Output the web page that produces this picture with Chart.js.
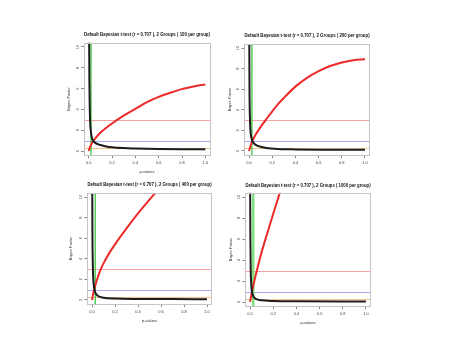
<!DOCTYPE html>
<html><head><meta charset="utf-8">
<script src="https://cdn.jsdelivr.net/npm/chart.js@4"></script>
<style>
html,body{margin:0;padding:0;background:#fff;}
body{width:474px;height:355px;position:relative;overflow:hidden;}
canvas{position:absolute;left:0;top:0;}
</style></head><body>
<canvas id="c0" width="474" height="355"></canvas>
<canvas id="c1" width="474" height="355"></canvas>
<canvas id="c2" width="474" height="355"></canvas>
<canvas id="c3" width="474" height="355"></canvas>
<script>
// ---- data ----
const groupSizes = [100, 200, 400, 1000];
const xTicks = [0, 0.2, 0.4, 0.6, 0.8, 1.0];
const yTicks = [0, 2, 4, 6, 8, 10];
const thresholds = [3, 1, 1/3];
const pCritical = [0.02, 0.025, 0.028, 0.028];

const redP100  = [0, 0.01, 0.03, 0.05, 0.1, 0.2, 0.3, 0.4, 0.5, 0.6, 0.7, 0.8, 0.9, 1.0];
const redBF100 = [0, 0.35, 0.8, 1.12, 1.75, 2.65, 3.4, 4.05, 4.7, 5.2, 5.6, 5.95, 6.2, 6.4];
const blkP100  = [0.004, 0.006, 0.008, 0.012, 0.018, 0.025, 0.035, 0.05, 0.07, 0.1, 0.15, 0.2, 0.3, 0.4, 0.5, 0.6, 0.8, 1.0];
const blkBF100 = [11, 7, 5, 3, 2, 1.4, 1.05, 0.85, 0.7, 0.58, 0.44, 0.36, 0.28, 0.24, 0.21, 0.19, 0.17, 0.16];

const redP200  = [0, 0.01, 0.02, 0.05, 0.08, 0.12, 0.16, 0.2, 0.25, 0.3, 0.4, 0.5, 0.6, 0.7, 0.8, 0.9, 1.0];
const redBF200 = [0, 0.4, 0.75, 1.45, 2.0, 2.65, 3.25, 3.85, 4.55, 5.15, 6.25, 7.1, 7.75, 8.25, 8.6, 8.82, 8.9];
const blkP200  = [0.002, 0.004, 0.007, 0.012, 0.02, 0.03, 0.045, 0.07, 0.1, 0.15, 0.25, 0.4, 0.6, 1.0];
const blkBF200 = [11, 6, 3.5, 2.0, 1.3, 0.95, 0.7, 0.52, 0.42, 0.3, 0.2, 0.15, 0.12, 0.11];

const redP400  = [0, 0.01, 0.02, 0.04, 0.07, 0.1, 0.15, 0.2, 0.3, 0.4, 0.5, 0.56];
const redBF400 = [0, 0.6, 1.05, 1.85, 2.8, 3.55, 4.55, 5.4, 6.95, 8.4, 9.75, 10.5];
const blkP400  = [0.002, 0.004, 0.007, 0.01, 0.015, 0.02, 0.03, 0.05, 0.1, 0.2, 0.4, 0.7, 1.0];
const blkBF400 = [11, 6, 3.5, 2.3, 1.5, 1.1, 0.7, 0.42, 0.22, 0.14, 0.1, 0.085, 0.08];

const redP1000  = [0, 0.01, 0.02, 0.04, 0.06, 0.1, 0.15, 0.2, 0.27];
const redBF1000 = [0, 0.6, 1.15, 2.15, 3.05, 4.75, 6.6, 8.4, 10.85];
const blkP1000  = [0.001, 0.003, 0.006, 0.01, 0.015, 0.02, 0.03, 0.05, 0.1, 0.2, 0.4, 1.0];
const blkBF1000 = [11, 6, 3, 1.8, 1.1, 0.8, 0.5, 0.3, 0.16, 0.1, 0.07, 0.05];

const redSeries = [[redP100, redBF100], [redP200, redBF200], [redP400, redBF400], [redP1000, redBF1000]];
const blkSeries = [[blkP100, blkBF100], [blkP200, blkBF200], [blkP400, blkBF400], [blkP1000, blkBF1000]];

// ---- layout (pixels) ----
const layouts = [
  {L:84,    T:42.8,  R:210,   B:155.2, titleY:35,    yTitleX:69,    xTitleY:172},
  {L:244.4, T:43.9,  R:369.6, B:155.1, titleY:35.5,  yTitleX:229.7, xTitleY:null},
  {L:87.4,  T:192.9, R:211.6, B:304.1, titleY:185,   yTitleX:70.7,  xTitleY:320.7},
  {L:245.4, T:192.8, R:370.6, B:306.2, titleY:185.5, yTitleX:230.7, xTitleY:323}
];
const refColors = ['#f5a3a3', '#a9a9ee', '#f5c38f'];
const FS = 4, LH = FS * 1.2, TFS = 4.5, TLH = TFS * 1.2;
const fam = "'Liberation Sans', Arial, sans-serif";

function pts(xs, ys) { return xs.map((x, i) => ({x: x, y: ys[i]})); }

const refPlugin = {
  id: 'refLines',
  beforeDatasetsDraw(chart, args, opts) {
    const {ctx, chartArea: a, scales: {x, y}} = chart;
    ctx.save();
    ctx.beginPath(); ctx.rect(a.left, a.top, a.right - a.left, a.bottom - a.top); ctx.clip();
    thresholds.forEach((t, i) => {
      const py = Math.round(y.getPixelForValue(t)) + 0.5;
      ctx.strokeStyle = refColors[i]; ctx.lineWidth = 1;
      ctx.beginPath(); ctx.moveTo(a.left, py); ctx.lineTo(a.right, py); ctx.stroke();
    });
    const px = x.getPixelForValue(opts.pc);
    ctx.strokeStyle = opts.gc; ctx.lineWidth = opts.gw;
    ctx.beginPath(); ctx.moveTo(px, a.top); ctx.lineTo(px, a.bottom); ctx.stroke();
    ctx.restore();
  },
  afterDraw(chart) {
    const {ctx, chartArea: a} = chart;
    ctx.save();
    ctx.strokeStyle = '#c4c4c4'; ctx.lineWidth = 1;
    ctx.strokeRect(Math.round(a.left) + 0.5, Math.round(a.top) + 0.5, Math.round(a.right - a.left), Math.round(a.bottom - a.top));
    ctx.restore();
  }
};

groupSizes.forEach((n, k) => {
  const g = layouts[k];
  const wY = g.L - (g.yTitleX - LH / 2);
  const hX = (g.xTitleY !== null ? g.xTitleY : g.B + 16.8) + LH / 2 - g.B;
  new Chart(document.getElementById('c' + k), {
    type: 'scatter',
    data: {datasets: [
      {data: pts(blkSeries[k][0], blkSeries[k][1]), showLine: true, borderColor: '#1c1c1c', borderWidth: 2,
       pointRadius: 0, cubicInterpolationMode: 'monotone', order: 0},
      {data: pts(redSeries[k][0], redSeries[k][1]), showLine: true, borderColor: '#ec2a2a', borderWidth: 2,
       pointRadius: 0, cubicInterpolationMode: 'monotone', order: 1}
    ]},
    options: {
      responsive: false, animation: false, devicePixelRatio: 1,
      layout: {padding: {left: g.L - wY, top: g.titleY - TLH / 2, right: 474 - g.R, bottom: 355 - g.B - hX}},
      plugins: {
        legend: {display: false}, tooltip: {enabled: false},
        title: {display: true, fullSize: false, color: '#111',
          text: 'Default Bayesian t-test (r = 0.707 ), 2 Groups ( ' + n + ' per group)',
          font: {size: TFS, weight: 'bold', family: fam, lineHeight: 1.2},
          padding: {top: 0, bottom: g.T - (g.titleY + TLH / 2)}},
        refLines: {pc: pCritical[k], gc: k === 3 ? '#7ee07e' : '#3fc63f', gw: k === 3 ? 2.5 : 1.3}
      },
      scales: {
        x: {type: 'linear', min: -0.04, max: 1.04,
          afterFit: s => { s.height = hX; },
          afterBuildTicks: s => { s.ticks = xTicks.map(v => ({value: v})); },
          ticks: {autoSkip: false, minRotation: 0, maxRotation: 0, padding: 2, color: '#444',
            font: {size: FS, family: fam}, callback: v => Number(v).toFixed(1)},
          grid: {drawOnChartArea: false, drawTicks: true, tickLength: 3, color: '#888'},
          border: {display: false},
          title: {display: g.xTitleY !== null, text: 'p-values', color: '#333', padding: 0,
            font: {size: FS, family: fam, lineHeight: 1.2}}
        },
        y: {type: 'linear', min: -0.4, max: 10.4,
          afterFit: s => { s.width = wY; },
          afterBuildTicks: s => { s.ticks = yTicks.map(v => ({value: v})); },
          ticks: {autoSkip: false, minRotation: 90, maxRotation: 90, crossAlign: 'center', padding: 1, color: '#444',
            font: {size: FS, family: fam}, callback: v => String(v)},
          grid: {drawOnChartArea: false, drawTicks: true, tickLength: 3, color: '#888'},
          border: {display: false},
          title: {display: true, text: 'Bayes Factor', color: '#333', padding: 0,
            font: {size: FS, family: fam, lineHeight: 1.2}}
        }
      }
    },
    plugins: [refPlugin]
  });
});
</script>
</body></html>
